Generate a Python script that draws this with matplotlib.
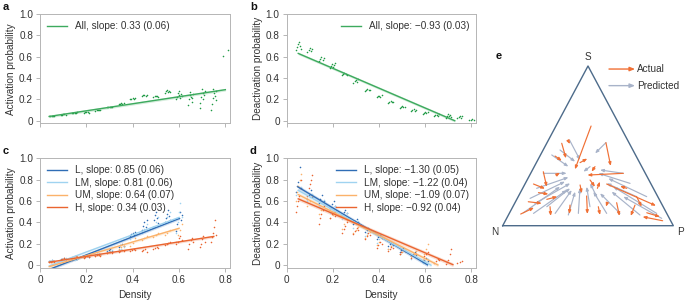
import numpy as np
import matplotlib
matplotlib.use('Agg')
import matplotlib.pyplot as plt

plt.rcParams['font.family'] = ['Liberation Sans', 'DejaVu Sans']
plt.rcParams['font.size'] = 7.2
plt.rcParams['axes.unicode_minus'] = True

# ---------------- data ----------------
dens_all = [0.05, 0.1, 0.15, 0.2, 0.25, 0.3, 0.35, 0.4, 0.45, 0.5, 0.55, 0.6, 0.65, 0.7, 0.75, 0.8]
dens_lo = dens_all[:12]
dens_hi = dens_all[:15]

act_all = [
    [0.04, 0.042, 0.045, 0.044, 0.047],
    [0.055, 0.058, 0.06, 0.062, 0.057],
    [0.07, 0.072, 0.075, 0.068, 0.078],
    [0.075, 0.078, 0.08, 0.082, 0.077],
    [0.095, 0.1, 0.098, 0.103, 0.097],
    [0.125, 0.13, 0.128, 0.133, 0.127],
    [0.155, 0.16, 0.165, 0.158, 0.162],
    [0.2, 0.205, 0.21, 0.207, 0.212],
    [0.23, 0.24, 0.245, 0.236, 0.242],
    [0.22, 0.228, 0.235, 0.231, 0.225],
    [0.26, 0.275, 0.285, 0.27, 0.28, 0.265],
    [0.2, 0.22, 0.26, 0.28, 0.24, 0.21, 0.25, 0.23],
    [0.15, 0.2, 0.24, 0.27, 0.22, 0.18, 0.21, 0.25],
    [0.12, 0.17, 0.22, 0.3, 0.26, 0.2, 0.24, 0.28],
    [0.1, 0.16, 0.21, 0.3, 0.26, 0.23, 0.19, 0.28],
    [0.61, 0.66],
]
deact_all = [
    [0.66, 0.69, 0.72, 0.74, 0.7, 0.67],
    [0.64, 0.66, 0.68, 0.65, 0.67],
    [0.56, 0.58, 0.6, 0.57, 0.59],
    [0.49, 0.51, 0.53, 0.5, 0.52, 0.54],
    [0.43, 0.44, 0.45, 0.44, 0.43],
    [0.35, 0.37, 0.38, 0.36, 0.39],
    [0.28, 0.29, 0.3, 0.29, 0.285],
    [0.22, 0.23, 0.235, 0.225, 0.24],
    [0.17, 0.18, 0.185, 0.175, 0.18],
    [0.12, 0.13, 0.135, 0.125, 0.13],
    [0.09, 0.1, 0.11, 0.095, 0.105],
    [0.065, 0.075, 0.08, 0.07, 0.085],
    [0.04, 0.05, 0.055, 0.045, 0.06],
    [0.03, 0.045, 0.06, 0.04, 0.05, 0.035],
    [0.025, 0.035, 0.04, 0.03, 0.045],
    [0.005, 0.01, 0.012, 0.008],
]

act_L = [[0.035, 0.04, 0.045, 0.042, 0.038], [0.055, 0.06, 0.065, 0.058], [0.05, 0.055, 0.06, 0.052],
         [0.075, 0.08, 0.085, 0.078], [0.095, 0.1, 0.105, 0.098], [0.13, 0.14, 0.15, 0.135],
         [0.17, 0.19, 0.2, 0.18], [0.27, 0.29, 0.3, 0.28, 0.31], [0.33, 0.37, 0.4, 0.36, 0.42],
         [0.36, 0.42, 0.47, 0.5, 0.44, 0.39], [0.4, 0.44, 0.48, 0.52, 0.46, 0.42],
         [0.32, 0.38, 0.44, 0.5, 0.42, 0.47]]
act_LM = [[0.035, 0.04, 0.045, 0.04], [0.05, 0.06, 0.065], [0.045, 0.05, 0.058], [0.075, 0.08, 0.083],
          [0.095, 0.1, 0.104], [0.12, 0.13, 0.14], [0.14, 0.15, 0.17], [0.24, 0.27, 0.29],
          [0.3, 0.34, 0.38], [0.36, 0.4, 0.45], [0.4, 0.45, 0.5], [0.3, 0.4, 0.5, 0.58, 0.45]]
act_UM = [[0.025, 0.03, 0.035], [0.05, 0.055, 0.06], [0.075, 0.08, 0.085], [0.075, 0.08, 0.085],
          [0.085, 0.09, 0.095], [0.11, 0.12, 0.125], [0.15, 0.17, 0.18], [0.18, 0.21, 0.25],
          [0.23, 0.25, 0.27], [0.26, 0.28, 0.3], [0.28, 0.3, 0.33], [0.22, 0.28, 0.33, 0.38]]
act_H = [[0.025, 0.03, 0.035, 0.028], [0.05, 0.06, 0.065, 0.058], [0.06, 0.07, 0.08, 0.075],
         [0.07, 0.075, 0.08, 0.078], [0.085, 0.09, 0.095, 0.088], [0.11, 0.12, 0.125, 0.115],
         [0.12, 0.13, 0.14, 0.135], [0.13, 0.14, 0.15, 0.145], [0.13, 0.14, 0.15, 0.12],
         [0.15, 0.16, 0.17, 0.155], [0.19, 0.2, 0.21, 0.22], [0.2, 0.22, 0.25, 0.27, 0.23],
         [0.15, 0.2, 0.23, 0.25, 0.22], [0.17, 0.2, 0.24, 0.27, 0.22],
         [0.22, 0.26, 0.3, 0.36, 0.42, 0.28]]

deact_L = [[0.68, 0.74, 0.78, 0.92, 0.72], [0.62, 0.66, 0.7, 0.64], [0.58, 0.62, 0.66, 0.6],
           [0.53, 0.57, 0.6, 0.55], [0.47, 0.5, 0.52, 0.49], [0.38, 0.41, 0.43, 0.4],
           [0.31, 0.33, 0.35, 0.32], [0.24, 0.26, 0.28, 0.25], [0.18, 0.2, 0.22, 0.19],
           [0.12, 0.14, 0.16, 0.13], [0.08, 0.1, 0.12, 0.09], [0.03, 0.05, 0.07, 0.04]]
deact_LM = [[0.66, 0.7, 0.73], [0.6, 0.64, 0.67], [0.55, 0.58, 0.61], [0.49, 0.52, 0.55],
            [0.43, 0.46, 0.49], [0.35, 0.38, 0.41], [0.27, 0.3, 0.32], [0.21, 0.24, 0.27],
            [0.15, 0.18, 0.21], [0.1, 0.12, 0.14], [0.06, 0.08, 0.1], [0.02, 0.04, 0.06]]
deact_UM = [[0.6, 0.68, 0.74, 0.8, 0.85], [0.55, 0.6, 0.65], [0.48, 0.52, 0.56], [0.44, 0.47, 0.5],
            [0.34, 0.38, 0.42], [0.3, 0.33, 0.36], [0.25, 0.28, 0.31], [0.19, 0.22, 0.25],
            [0.15, 0.18, 0.2], [0.1, 0.12, 0.14], [0.08, 0.1, 0.13], [0.05, 0.1, 0.15, 0.2]]
deact_H = [[0.5, 0.55, 0.6, 0.65, 0.72, 0.8], [0.65, 0.72, 0.76, 0.8, 0.84], [0.38, 0.44, 0.48, 0.52, 0.55],
           [0.44, 0.48, 0.5, 0.46], [0.3, 0.34, 0.37, 0.4], [0.29, 0.32, 0.35, 0.33],
           [0.24, 0.27, 0.3, 0.28], [0.16, 0.19, 0.22, 0.2], [0.13, 0.15, 0.17, 0.16],
           [0.1, 0.12, 0.14, 0.13], [0.07, 0.09, 0.11, 0.1], [0.05, 0.08, 0.1, 0.12],
           [0.02, 0.04, 0.06, 0.05], [0.01, 0.03, 0.05, 0.1, 0.15], [0.02, 0.03, 0.035]]

# fitted lines: slope (se) as in legends, intercepts and end points
groups = ['L', 'LM', 'UM', 'H']
act_slope = [0.85, 0.81, 0.64, 0.34]
act_se = [0.06, 0.06, 0.07, 0.03]
act_icpt = [-0.075, -0.04, -0.04, 0.013]
act_xend = [0.6, 0.6, 0.6, 0.75]
deact_slope = [-1.30, -1.22, -1.09, -0.92]
deact_se = [0.05, 0.04, 0.07, 0.04]
deact_icpt = [0.795, 0.761, 0.7145, 0.666]
deact_xend = [0.61, 0.625, 0.655, 0.72]
all_act = (0.33, 0.06, 0.027, 0.8)
all_deact = (-0.93, 0.03, 0.677, 0.728)

# ternary arrows, stored as (P, S) fractions: start -> end
act_p0 = [0.206, 0.345, 0.543, 0.479, 0.088, 0.120, 0.069, 0.069, 0.075, 0.218, 0.330, 0.399, 0.501, 0.541, 0.596,
          0.711, 0.922, 0.804, 0.256, 0.356, 0.089, 0.155, 0.106, 0.050, 0.176, 0.369, 0.438, 0.610, 0.694, 0.326]
act_s0 = [0.624, 0.520, 0.328, 0.261, 0.516, 0.530, 0.338, 0.073, 0.150, 0.119, 0.129, 0.186, 0.119, 0.144, 0.144,
          0.129, 0.031, 0.081, 0.395, 0.370, 0.436, 0.317, 0.207, 0.261, 0.165, 0.286, 0.234, 0.234, 0.182, 0.255]
act_p1 = [0.247, 0.446, 0.338, 0.836, 0.160, 0.139, 0.136, 0.127, 0.159, 0.251, 0.354, 0.460, 0.537, 0.546, 0.654,
          0.720, 0.792, 0.894, 0.286, 0.352, 0.143, 0.170, 0.169, 0.132, 0.229, 0.419, 0.432, 0.564, 0.755, 0.362]
act_s1 = [0.353, 0.374, 0.317, 0.125, 0.422, 0.511, 0.244, 0.113, 0.140, 0.061, 0.073, 0.073, 0.067, 0.119, 0.061,
          0.061, 0.056, 0.056, 0.420, 0.338, 0.407, 0.332, 0.198, 0.232, 0.182, 0.244, 0.276, 0.248, 0.119, 0.203]
pred_p0 = [0.081, 0.142, 0.075, 0.082, 0.119, 0.199, 0.099, 0.066, 0.123, 0.345, 0.543, 0.614, 0.753,
           0.864, 0.909, 0.771, 0.649, 0.571, 0.452, 0.405, 0.351, 0.269, 0.327, 0.074, 0.460, 0.694]
pred_s0 = [0.081, 0.077, 0.171, 0.234, 0.140, 0.119, 0.474, 0.443, 0.537, 0.520, 0.328, 0.265, 0.182,
           0.077, 0.046, 0.067, 0.077, 0.077, 0.119, 0.077, 0.067, 0.077, 0.370, 0.328, 0.182, 0.182]
pred_p1 = [0.214, 0.264, 0.227, 0.234, 0.263, 0.278, 0.224, 0.200, 0.248, 0.315, 0.396, 0.397, 0.471,
           0.526, 0.616, 0.532, 0.469, 0.425, 0.370, 0.336, 0.318, 0.293, 0.304, 0.211, 0.380, 0.477]
pred_s1 = [0.244, 0.223, 0.276, 0.303, 0.265, 0.234, 0.401, 0.370, 0.411, 0.453, 0.349, 0.328, 0.296,
           0.244, 0.182, 0.213, 0.203, 0.213, 0.244, 0.234, 0.213, 0.223, 0.338, 0.328, 0.265, 0.265]

# ---------------- style ----------------
green_pt = '#1f9a45'
green_ln = '#3daa5e'
grp_colors = ['#2f6db5', '#9fd3f0', '#fbb26a', '#ea6530']
c_actual = '#f07035'
c_pred = '#a8b3c9'
spine_c = '#b5b5b5'
text_c = '#333333'

W, H = 685, 300
fig = plt.figure(figsize=(W / 100, H / 100), dpi=100)


def px_axes(left, top, right, bottom):
    return fig.add_axes([left / W, 1 - bottom / H, (right - left) / W, (bottom - top) / H])


def style_axes(ax, ylabel, xlabels):
    ax.set_xlim(0, 0.82)
    ax.set_ylim(-0.025, 1.0)
    ax.set_xticks([0, 0.2, 0.4, 0.6, 0.8])
    ax.set_yticks([0, 0.2, 0.4, 0.6, 0.8, 1.0])
    ax.set_yticklabels(['0', '0.2', '0.4', '0.6', '0.8', '1.0'])
    if xlabels:
        ax.set_xticklabels(['0', '0.2', '0.4', '0.6', '0.8'])
        ax.set_xlabel('Density', color=text_c, labelpad=4)
    else:
        ax.set_xticklabels([])
    ax.set_ylabel(ylabel, color=text_c, labelpad=2)
    for s in ax.spines.values():
        s.set_color(spine_c)
        s.set_linewidth(0.7)
    ax.tick_params(length=3, width=0.7, color=spine_c, labelcolor=text_c, pad=2)


def scatter_clusters(ax, dens, vals, color):
    for d, ys in zip(dens, vals):
        xs = d + np.linspace(-0.011, 0.011, len(ys))
        ax.scatter(xs, ys, s=1.3, color=color, lw=0, zorder=3)


def fit_line(ax, x0, x1, slope, icpt, color, label, hw=0.012):
    xs = np.linspace(x0, x1, 50)
    ys = icpt + slope * xs
    ax.fill_between(xs, ys - hw, ys + hw, color=color, alpha=0.22, lw=0, zorder=2)
    ax.plot(xs, ys, color=color, lw=1.0, label=label, zorder=4)


def slope_txt(name, slope, se):
    return f'{name}, slope: {slope:.2f} ({se:.2f})'.replace('-', '\u2212')


leg_kw = dict(frameon=False, handlelength=2.0, handletextpad=0.8, borderaxespad=0.3,
              labelspacing=0.25, labelcolor=text_c)

# panel a
ax_a = px_axes(40, 14, 230, 123.4)
scatter_clusters(ax_a, dens_all, act_all, green_pt)
fit_line(ax_a, 0.04, all_act[3], all_act[0], all_act[2], green_ln, slope_txt('All', all_act[0], all_act[1]))
style_axes(ax_a, 'Activation probability', False)
ax_a.legend(loc='upper left', **leg_kw)

# panel b
ax_b = px_axes(286.7, 14, 476, 123.4)
scatter_clusters(ax_b, dens_all, deact_all, green_pt)
fit_line(ax_b, 0.05, all_deact[3], all_deact[0], all_deact[2], green_ln,
         slope_txt('All', all_deact[0], all_deact[1]))
style_axes(ax_b, 'Deactivation probability', False)
ax_b.legend(loc='upper right', **leg_kw)

# panel c
ax_c = px_axes(40, 158.3, 230, 267.7)
for dens, vals, col in zip([dens_lo, dens_lo, dens_lo, dens_hi], [act_L, act_LM, act_UM, act_H], grp_colors):
    scatter_clusters(ax_c, dens, vals, col)
for g, sl, se, ic, col, x1 in zip(groups, act_slope, act_se, act_icpt, grp_colors, act_xend):
    fit_line(ax_c, 0.04, x1, sl, ic, col, slope_txt(g, sl, se))
style_axes(ax_c, 'Activation probability', True)
ax_c.legend(loc='upper left', **leg_kw)

# panel d
ax_d = px_axes(286.7, 158.3, 476, 267.7)
for dens, vals, col in zip([dens_lo, dens_lo, dens_lo, dens_hi], [deact_L, deact_LM, deact_UM, deact_H], grp_colors):
    scatter_clusters(ax_d, dens, vals, col)
for g, sl, se, ic, col, x1 in zip(groups, deact_slope, deact_se, deact_icpt, grp_colors, deact_xend):
    fit_line(ax_d, 0.05, x1, sl, ic, col, slope_txt(g, sl, se), hw=0.018)
style_axes(ax_d, 'Deactivation probability', True)
ax_d.legend(loc='upper right', **leg_kw)

# panel e: ternary (N bottom-left, P bottom-right, S top)
ax_e = px_axes(502.7, 66, 673.3, 225.7)
ax_e.set_xlim(0, 1)
ax_e.set_ylim(0, 1)
ax_e.axis('off')
ax_e.plot([0, 1, 0.5, 0], [0, 0, 1, 0], color='#4d6b8a', lw=1.0, clip_on=False)


def tern(p, s):
    return np.asarray(p) + 0.5 * np.asarray(s), np.asarray(s)


def draw_arrows(p0, s0, p1, s1, color, lw):
    x0, y0 = tern(p0, s0)
    x1, y1 = tern(p1, s1)
    for a, b, c, d in zip(x0, y0, x1, y1):
        ax_e.annotate('', xy=(c, d), xytext=(a, b),
                      arrowprops=dict(arrowstyle='-|>,head_length=0.5,head_width=0.2', color=color, lw=lw,
                                      mutation_scale=4, shrinkA=0, shrinkB=0))


draw_arrows(pred_p0, pred_s0, pred_p1, pred_s1, c_pred, 0.85)
draw_arrows(act_p0, act_s0, act_p1, act_s1, c_actual, 0.85)

ax_e.text(0.5, 1.025, 'S', ha='center', va='bottom', color=text_c)
ax_e.text(-0.025, -0.01, 'N', ha='right', va='top', color=text_c)
ax_e.text(1.025, -0.01, 'P', ha='left', va='top', color=text_c)
for yy, col, lab in [(0.981, c_actual, 'Actual'), (0.877, c_pred, 'Predicted')]:
    ax_e.annotate('', xy=(0.776, yy), xytext=(0.623, yy),
                  arrowprops=dict(arrowstyle='-|>,head_length=0.5,head_width=0.2', color=col, lw=1.0,
                                  mutation_scale=6, shrinkA=0, shrinkB=0),
                  annotation_clip=False)
    ax_e.text(0.79, yy, lab, ha='left', va='center', color=text_c)

# panel letters
for x, y, t in [(3, 7, 'a'), (250, 7, 'b'), (3, 151, 'c'), (250, 151, 'd'), (496, 56, 'e')]:
    fig.text(x / W, 1 - y / H, t, fontweight='bold', fontsize=8, ha='left', va='center', color='#111111')

fig.savefig('out.png', dpi=100)
